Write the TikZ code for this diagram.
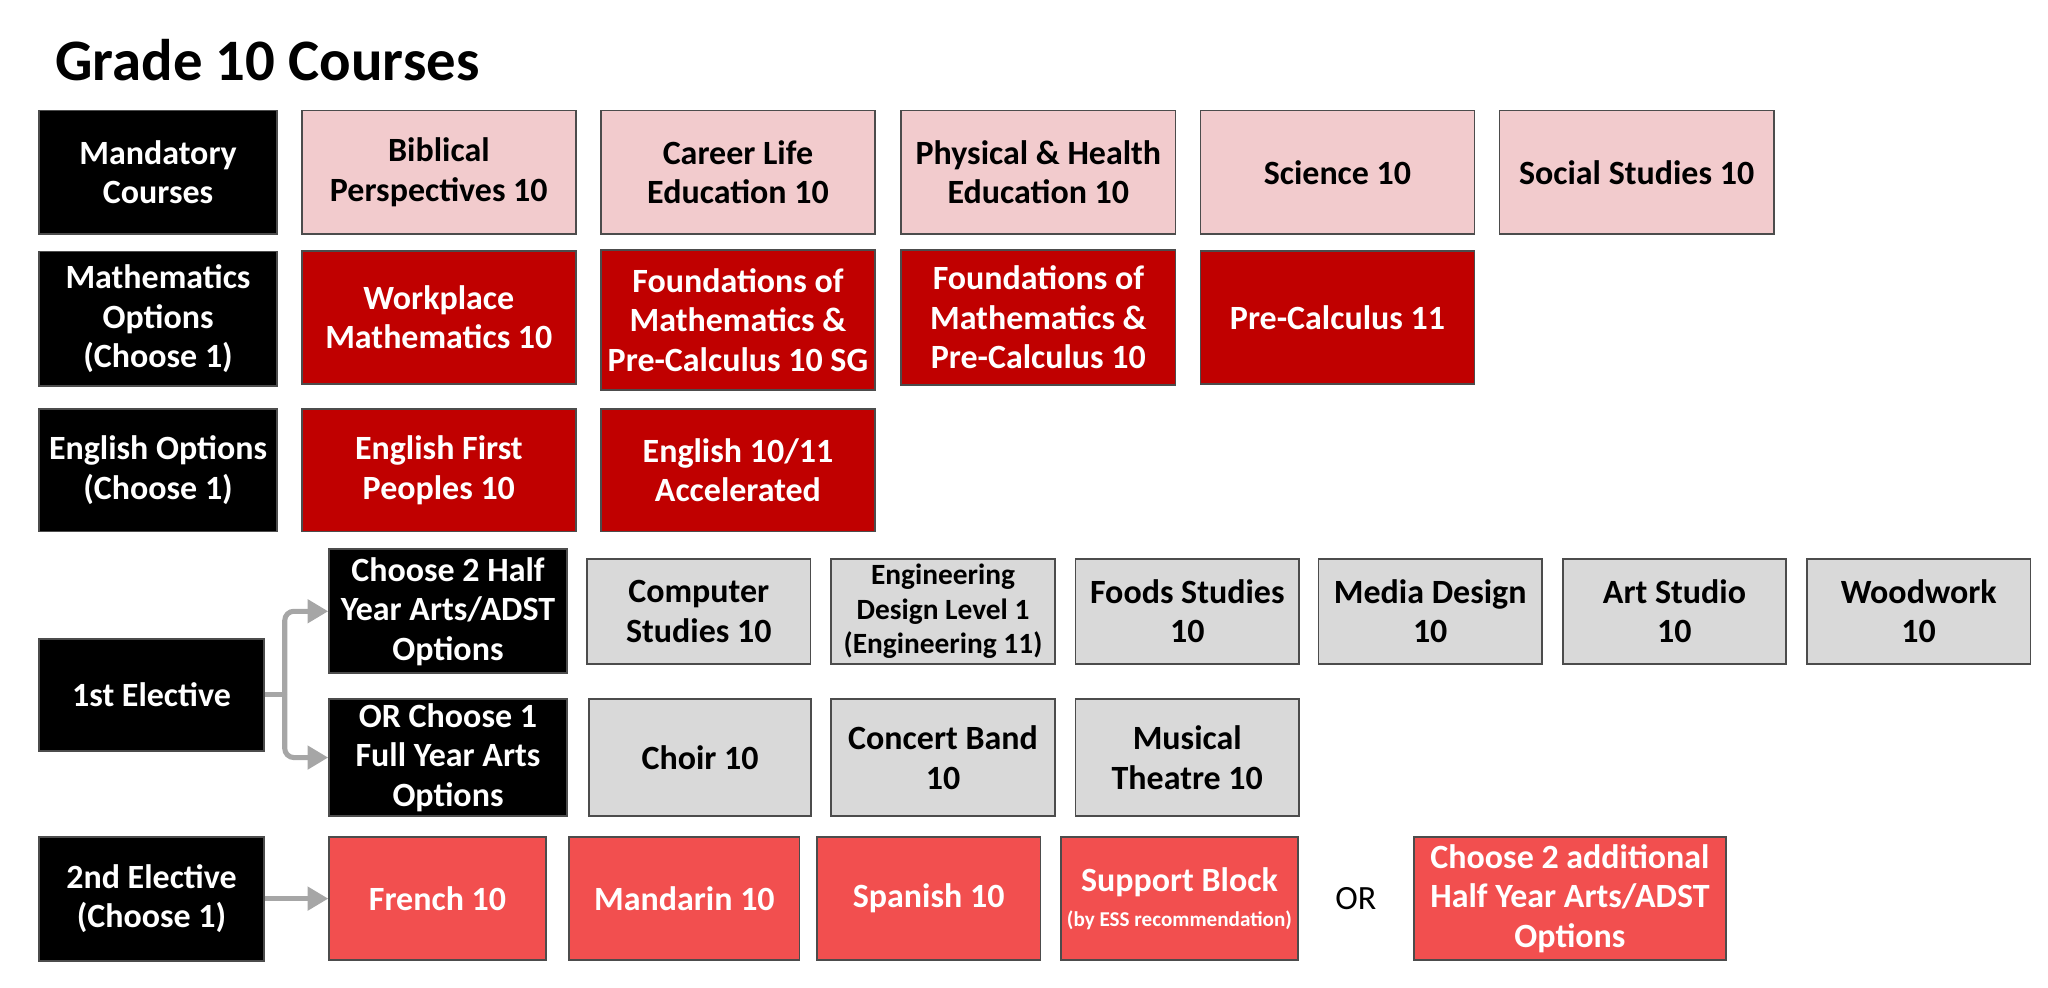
\documentclass[tikz,border=0pt]{standalone}
\usepackage{fontspec}
\setmainfont{Carlito}
\usetikzlibrary{arrows.meta}
\definecolor{pinkbox}{HTML}{F2CBCD}
\definecolor{redbox}{HTML}{C00000}
\definecolor{coralbox}{HTML}{F24F4F}
\definecolor{graybox}{HTML}{D9D9D9}
\definecolor{linkgray}{HTML}{A6A6A6}
\tikzset{
  box/.style={draw=black!70, line width=0.4pt, align=center, inner sep=0pt,
    font=\fontsize{7.4}{8.6}\selectfont\bfseries},
  head/.style={box, fill=black, text=white},
  mand/.style={box, fill=pinkbox},
  opt/.style={box, fill=redbox, text=white},
  lang/.style={box, fill=coralbox, text=white},
  elec/.style={box, fill=graybox},
  link/.style={draw=linkgray, line width=1.1pt, -{Triangle[length=4.5pt,width=5pt]}}
}
\begin{document}
\begin{tikzpicture}[x=0.2845pt,y=-0.2845pt]
\useasboundingbox (0,0) rectangle (1568,756);
\node[anchor=west, font=\fontsize{12.8}{14}\selectfont\bfseries] (title) at (30,46) {Grade 10 Courses};
% mandatory row
\node[head, minimum width=51.8pt, minimum height=27pt] (mandh) at (121,132) {Mandatory\\Courses};
\foreach \x/\t [count=\i] in {336/{Biblical\\Perspectives 10}, 565/{Career Life\\Education 10}, 795/{Physical \& Health\\Education 10}, 1024/{Science 10}, 1253/{Social Studies 10}}
  \node[mand, minimum width=59.7pt, minimum height=27pt] (mand\i) at (\x,132) {\t};
% mathematics row
\node[head, minimum width=51.8pt, minimum height=29.3pt] (mathh) at (121,244) {Mathematics\\Options\\(Choose 1)};
\node[opt, minimum width=59.7pt, minimum height=29pt] (math1) at (336,243) {Workplace\\Mathematics 10};
\node[opt, minimum width=59.7pt, minimum height=30.4pt] (math2) at (565,245) {Foundations of\\Mathematics \&\\Pre-Calculus 10 SG};
\node[opt, minimum width=59.7pt, minimum height=29.3pt] (math3) at (795,243) {Foundations of\\Mathematics \&\\Pre-Calculus 10};
\node[opt, minimum width=59.7pt, minimum height=29pt] (math4) at (1024,243) {Pre-Calculus 11};
% english row
\node[head, minimum width=51.8pt, minimum height=26.7pt] (engh) at (121,360) {English Options\\(Choose 1)};
\node[opt, minimum width=59.7pt, minimum height=26.7pt] (eng1) at (336,360) {English First\\Peoples 10};
\node[opt, minimum width=59.7pt, minimum height=26.7pt] (eng2) at (565,360) {English 10/11\\Accelerated};
% first elective
\node[head, minimum width=48.9pt, minimum height=24.5pt] (elech) at (116,532) {1st Elective};
\node[head, minimum width=51.8pt, minimum height=27pt] (half) at (343,468) {Choose 2 Half\\Year Arts/ADST\\Options};
\node[head, minimum width=51.8pt, minimum height=25.6pt] (full) at (343,580) {OR Choose 1\\Full Year Arts\\Options};
\node[elec, minimum width=48.7pt, minimum height=22.8pt] (half1) at (535,468) {Computer\\Studies 10};
\node[elec, minimum width=48.7pt, minimum height=22.8pt, font=\fontsize{6.4}{7.6}\selectfont\bfseries] (half2) at (722,468) {Engineering\\Design Level 1\\(Engineering 11)};
\foreach \x/\t [count=\i from 3] in {909/{Foods Studies\\10}, 1095/{Media Design\\10}, 1282/{Art Studio\\10}, 1469/{Woodwork\\10}}
  \node[elec, minimum width=48.7pt, minimum height=22.8pt] (half\i) at (\x,468) {\t};
\node[elec, minimum width=48.4pt, minimum height=25.6pt] (full1) at (536,580) {Choir 10};
\node[elec, minimum width=48.7pt, minimum height=25.6pt] (full2) at (722,580) {Concert Band\\10};
\node[elec, minimum width=48.7pt, minimum height=25.6pt] (full3) at (909,580) {Musical\\Theatre 10};
\coordinate (split) at (218,532);
\draw[draw=linkgray, line width=1.1pt] (elech.east) -- (split);
\draw[link, rounded corners=2pt] (split) |- (half.west);
\draw[link, rounded corners=2pt] (split) |- (full.west);
% second elective
\node[head, minimum width=48.9pt, minimum height=27pt] (langh) at (116,688) {2nd Elective\\(Choose 1)};
\node[lang, minimum width=47.2pt, minimum height=26.7pt] (lang1) at (335,688) {French 10};
\node[lang, minimum width=50.1pt, minimum height=26.7pt] (lang2) at (524,688) {Mandarin 10};
\node[lang, minimum width=48.7pt, minimum height=26.7pt] (lang3) at (711,688) {Spanish 10};
\node[lang, minimum width=51.5pt, minimum height=26.7pt] (lang4) at (903,688) {Support Block\\[-1pt]{\fontsize{4.6}{5.5}\selectfont (by ESS recommendation)}};
\node[font=\fontsize{7.4}{8.6}\selectfont] (or) at (1038,688) {OR};
\node[lang, minimum width=68pt, minimum height=26.7pt] (lang5) at (1202,688) {Choose 2 additional\\Half Year Arts/ADST\\Options};
\draw[link] (langh.east) -- (lang1.west);
\end{tikzpicture}
\end{document}
